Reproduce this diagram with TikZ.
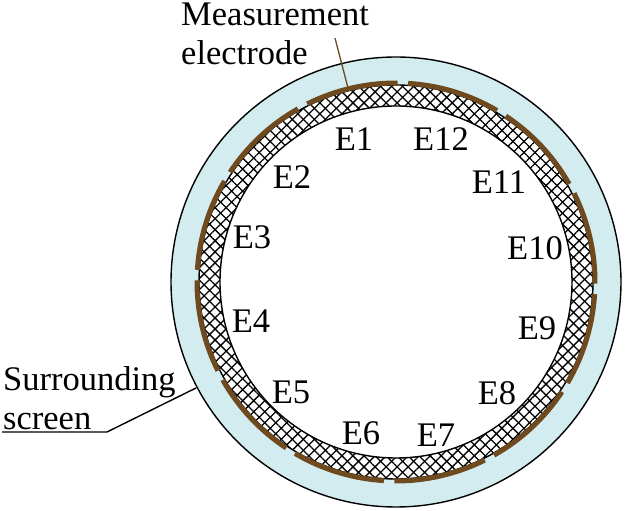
\documentclass[tikz,border=0pt]{standalone}
\usepackage{fontspec}
\setmainfont{Liberation Serif}
\usetikzlibrary{patterns.meta}

\definecolor{screenblue}{RGB}{211,236,240}
\definecolor{electrodebrown}{RGB}{110,74,30}

\tikzset{
    every node/.style={inner sep=0pt, font=\fontsize{34.5}{39}\selectfont},
    electrode/.style={draw=electrodebrown, line width=5pt},
    hatchleft/.style={pattern={Lines[angle=45,distance=7.8pt,line width=1.3pt]}, even odd rule},
    hatchright/.style={pattern={Lines[angle=-45,distance=7.8pt,line width=1.3pt]}, even odd rule}
}

\begin{document}
\begin{tikzpicture}[x=1pt, y=1pt]
        \useasboundingbox (0,0) rectangle (625,511);
        \coordinate (centre) at (396,229);

        \draw[fill=screenblue, line width=1.4pt] (centre) circle (225pt);
        \draw[fill=white, line width=1.4pt] (centre) circle (197pt);
        \path[hatchleft] (centre) circle (197pt) (centre) circle (176pt);
        \path[hatchright] (centre) circle (197pt) (centre) circle (176pt);
        \draw[fill=white, line width=1.4pt] (centre) circle (176pt);

        \draw[electrode] (centre) ++(89.5:199pt) arc (89.5:116.5:199pt);
        \draw[electrode] (centre) ++(119.5:199pt) arc (119.5:146.5:199pt);
        \draw[electrode] (centre) ++(149.5:199pt) arc (149.5:176.5:199pt);
        \draw[electrode] (centre) ++(179.5:199pt) arc (179.5:206.5:199pt);
        \draw[electrode] (centre) ++(209.5:199pt) arc (209.5:236.5:199pt);
        \draw[electrode] (centre) ++(239.5:199pt) arc (239.5:266.5:199pt);
        \draw[electrode] (centre) ++(269.5:199pt) arc (269.5:296.5:199pt);
        \draw[electrode] (centre) ++(299.5:199pt) arc (299.5:326.5:199pt);
        \draw[electrode] (centre) ++(329.5:199pt) arc (329.5:356.5:199pt);
        \draw[electrode] (centre) ++(359.5:199pt) arc (359.5:386.5:199pt);
        \draw[electrode] (centre) ++(29.5:199pt) arc (29.5:56.5:199pt);
        \draw[electrode] (centre) ++(59.5:199pt) arc (59.5:86.5:199pt);

        \node (e1) at (354,372) {E1};
        \node (e2) at (292,334) {E2};
        \node (e3) at (252,274) {E3};
        \node (e4) at (251,190) {E4};
        \node (e5) at (291,119) {E5};
        \node (e6) at (361,78) {E6};
        \node (e7) at (436,76) {E7};
        \node (e8) at (497,118) {E8};
        \node (e9) at (537,183) {E9};
        \node (e10) at (535,263) {E10};
        \node (e11) at (499,329) {E11};
        \node (e12) at (441,372) {E12};

        \node[align=left, anchor=north west] (measurement) at (181,508) {Measurement\\electrode};
        \node[align=left, anchor=north west] (surrounding) at (3,145) {Surrounding\\screen};

        \coordinate (measuretop) at (335,473);
        \coordinate (measureend) at (348,423);
        \coordinate (screenleft) at (2,79);
        \coordinate (screenbend) at (107,79);
        \coordinate (screenend) at (196,123);

        \draw[electrodebrown, line width=1.3pt] (measuretop) -- (measureend);
        \draw[line width=1.4pt] (screenleft) -- (screenbend) -- (screenend);
\end{tikzpicture}
\end{document}
